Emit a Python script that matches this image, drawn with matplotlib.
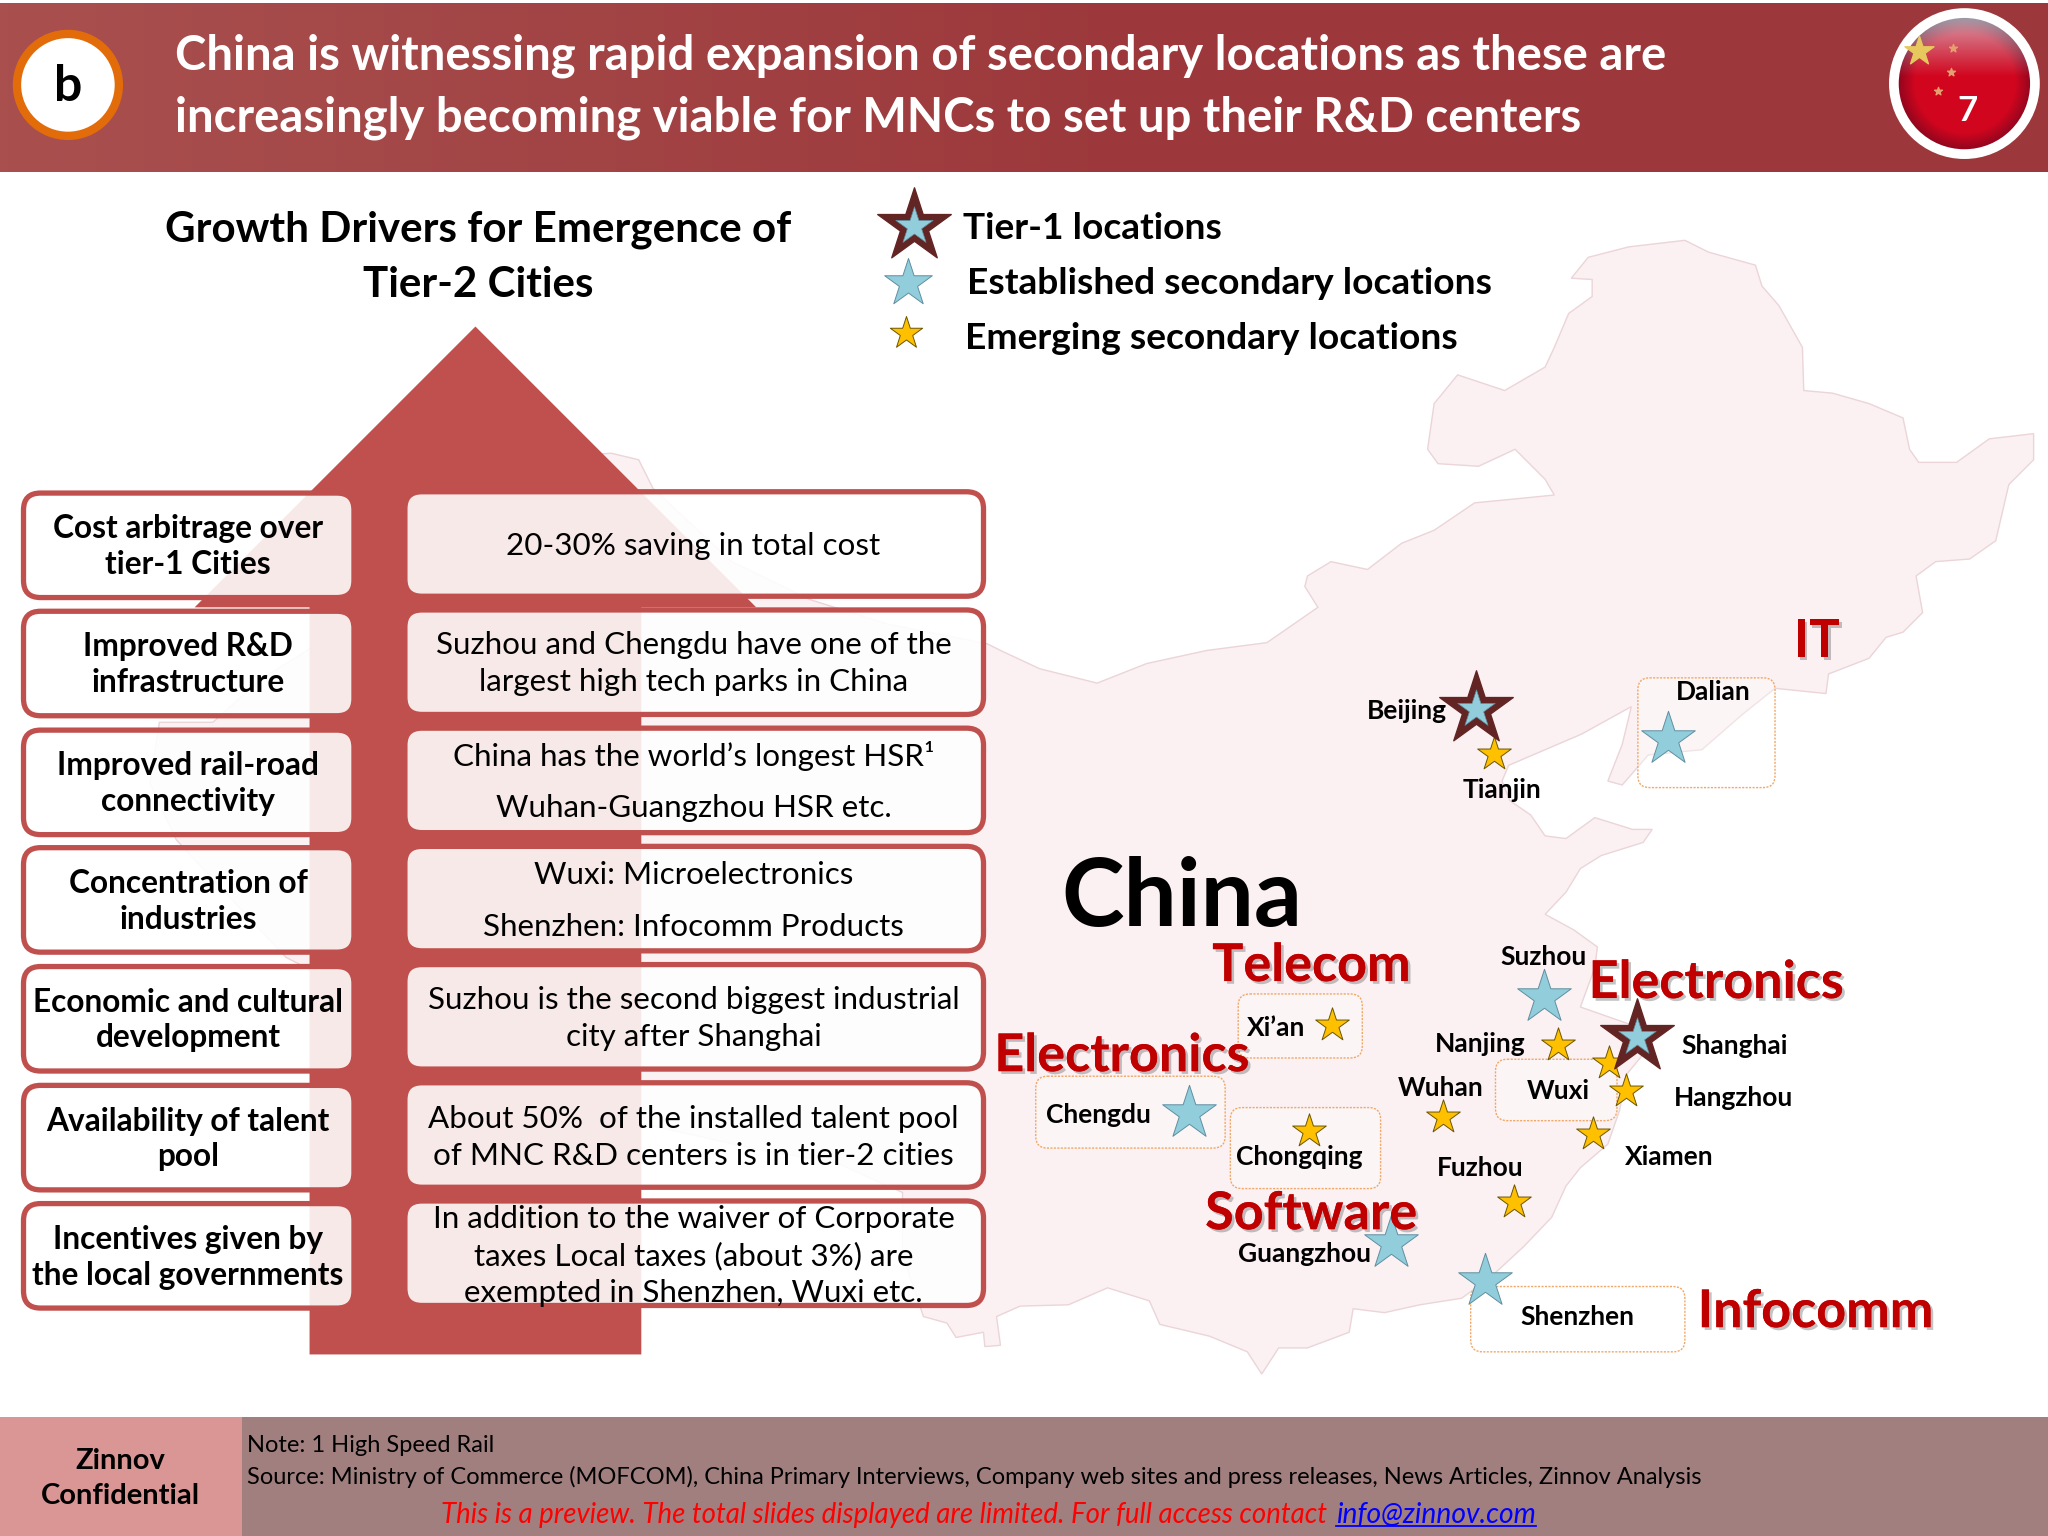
import numpy as np
import matplotlib
matplotlib.use("Agg")
import matplotlib.pyplot as plt
from matplotlib.patches import Circle, FancyBboxPatch, Polygon, Rectangle
import matplotlib.patheffects as pe

plt.rcParams['font.family'] = ['Lato', 'DejaVu Sans']

title_lines = ["China is witnessing rapid expansion of secondary locations as these are",
               "increasingly becoming viable for MNCs to set up their R&D centers"]
panel_title = ["Growth Drivers for Emergence of", "Tier-2 Cities"]
drivers = ["Cost arbitrage over\ntier-1 Cities", "Improved R&D\ninfrastructure", "Improved rail-road\nconnectivity",
           "Concentration of\nindustries", "Economic and cultural\ndevelopment", "Availability of talent\npool",
           "Incentives given by\nthe local governments"]
details = [["20-30% saving in total cost"],
           ["Suzhou and Chengdu have one of the", "largest high tech parks in China"],
           ["China has the world’s longest HSR¹", "Wuhan-Guangzhou HSR etc."],
           ["Wuxi: Microelectronics", "Shenzhen: Infocomm Products"],
           ["Suzhou is the second biggest industrial", "city after Shanghai"],
           ["About 50%  of the installed talent pool", "of MNC R&D centers is in tier-2 cities"],
           ["In addition to the waiver of Corporate", "taxes Local taxes (about 3%) are", "exempted in Shenzhen, Wuxi etc."]]
legend_labels = ["Tier-1 locations", "Established secondary locations", "Emerging secondary locations"]

# everything below is in the coordinates of a 1568 x 1176 view of the slide
left_y = [377.5, 468, 559, 649, 740, 831, 921.5]
right_y = [376.5, 467, 557.5, 648, 738.5, 829, 919.5]
row_h = 80
detail_y = [[418], [494, 522], [579, 619], [670, 710], [766, 794], [857, 885], [933, 962, 990]]

map_x = [1203, 1216, 1247, 1290, 1308, 1344, 1349, 1362, 1380, 1381, 1403, 1431, 1457, 1462, 1469, 1498, 1523, 1557,
         1557, 1538, 1528, 1508, 1482, 1467, 1472, 1457, 1444, 1431, 1400, 1398, 1359, 1334, 1303, 1262, 1242, 1231,
         1242, 1249, 1211, 1183, 1155, 1150, 1156, 1172, 1183, 1199, 1221, 1250, 1265, 1258, 1226, 1210, 1199, 1183,
         1205, 1223, 1221, 1210, 1250, 1264, 1245, 1240, 1231, 1210, 1199, 1188, 1167, 1140, 1119, 1087, 1060, 1036,
         1033, 1001, 979, 966, 955, 926, 888, 880, 848, 818, 781, 763, 766, 754, 753, 732, 725, 707, 691, 691, 640,
         580, 491, 350, 219, 135, 115, 122, 163, 200, 280, 340, 420, 468, 489, 500, 560, 620, 680, 756, 766, 796, 840,
         878, 924, 970, 1009, 999, 1001, 1019, 1047, 1073, 1098, 1129, 1170, 1190, 1183, 1160, 1132, 1101, 1093, 1098,
         1116, 1152, 1183, 1190, 1201, 1219, 1219]
map_y = [213, 197, 189, 184, 193, 203, 219, 234, 266, 299, 301, 309, 320, 344, 354, 354, 336, 332,
         352, 371, 414, 428, 430, 441, 469, 484, 488, 504, 516, 531, 527, 547, 574, 578, 601, 598,
         570, 541, 562, 574, 586, 598, 613, 624, 640, 642, 626, 635, 635, 645, 655, 665, 683, 700,
         712, 725, 741, 771, 785, 800, 823, 850, 876, 894, 908, 932, 954, 979, 994, 999, 1005, 1002,
         1020, 1032, 1032, 1052, 1035, 1023, 1014, 996, 986, 999, 1000, 1008, 1030, 1031, 1020, 1024, 1013, 1008, 960, 913, 890,
         880, 860, 800, 733, 643, 600, 553, 553, 520, 470, 410, 350, 347, 352, 374, 430, 459, 478, 493, 498, 512, 523,
         508, 498, 492, 465, 449, 441, 430, 436, 416, 406, 385, 381, 379, 367, 344, 357, 355, 344, 309,
         287, 299, 281, 266, 240, 227, 214]

tier1_x, tier1_y = [1130, 1253], [543, 794]
est_x, est_y = [1277, 1182, 910, 1065, 1137], [566, 763, 852, 952, 981]
emg_x = [1144, 1193, 1020, 1002, 1105, 1232, 1245, 1220, 1159]
emg_y = [577, 800, 785, 866, 855, 814, 835, 868, 920]

city_names = ["Beijing", "Tianjin", "Dalian", "Suzhou", "Nanjing", "Shanghai", "Xi’an", "Wuhan", "Wuxi", "Hangzhou",
              "Chengdu", "Chongqing", "Xiamen", "Fuzhou", "Guangzhou", "Shenzhen"]
city_x = [1077, 1150, 1312, 1182, 1133, 1328, 977, 1103, 1193, 1327, 841, 995, 1278, 1133, 999, 1208]
city_y = [544, 605, 530, 733, 799, 801, 787, 833, 835, 841, 854, 886, 886, 894, 960, 1008]

sectors = ["IT", "Telecom", "Electronics", "Electronics", "Software", "Infocomm"]
sector_x = [1391, 1004, 1314, 859, 1004, 1390]
sector_y = [492, 740, 753, 809, 930, 1005]

# x0, y0, x1, y1 of the dotted city boxes
city_boxes = [(1254, 519, 1359, 603), (948, 761, 1043, 810), (793, 824, 938, 879),
              (942, 848, 1057, 910), (1145, 811, 1238, 858), (1126, 985, 1290, 1035)]

note_text = "Note: 1 High Speed Rail"
source_text = "Source: Ministry of Commerce (MOFCOM), China Primary Interviews, Company web sites and press releases, News Articles, Zinnov Analysis"
preview_text = "This is a preview. The total slides displayed are limited. For full access contact "
mail_text = "info@zinnov.com"

RED = "#C0504D"
BLUE = "#92CDDC"
GOLD = "#FFC000"
DARK = "#632523"
SECTOR = "#C00000"

fig = plt.figure(figsize=(20.48, 15.36), dpi=100)
ax = fig.add_axes([0, 0, 1, 1])

# header and footer
grad = np.clip(np.linspace(0, 1, 256).reshape(1, -1) * 1.8, 0, 1)
cmap = matplotlib.colors.LinearSegmentedColormap.from_list("hdr", ["#A9504F", "#9C383B"])
ax.imshow(grad, extent=(0, 1568, 132, 3), cmap=cmap, aspect="auto", zorder=1)
ax.add_patch(Rectangle((0, 1085), 185, 91, fc="#D99694", ec="none", zorder=1))
ax.add_patch(Rectangle((185, 1085), 1383, 91, fc="#A27F7F", ec="none", zorder=1))

ax.add_patch(Circle((52, 65), 39, fc="white", ec="#E36C0A", lw=6, zorder=3))
ax.text(52, 66, "b", fontsize=36, fontweight="bold", ha="center", va="center", zorder=4)
for line, y in zip(title_lines, [43, 90]):
    ax.text(134, y, line, color="white", fontsize=34, fontweight="bold", va="center", zorder=3)

# flag badge, with a glossy top fading into saturated red
yy, xx = np.mgrid[-1:1:200j, -1:1:200j]
rim = np.clip((np.hypot(xx, yy) - 0.75) / 0.25, 0, 1)
gloss = np.clip(1 - (yy + 1) / 0.9, 0, 1)
shade = np.dstack([0.82 - 0.25 * rim + 0.02 * gloss, 0.02 + 0.6 * gloss, 0.12 + 0.55 * gloss])
flag = ax.imshow(np.clip(shade, 0, 1), extent=(1453, 1555, 115, 13), aspect="auto", zorder=3)
badge = Circle((1504, 64), 51, transform=ax.transData)
flag.set_clip_path(badge)
ax.add_patch(Circle((1504, 64), 54, fc="none", ec="white", lw=7, zorder=4))
ax.scatter([1469], [39], marker="*", s=480, c="#E6C85E", zorder=4)
ax.scatter([1495, 1494, 1484], [37, 55, 70], marker="*", s=35, c="#E6A070", zorder=4)
ax.text(1506, 85, "7", color="white", fontsize=25, fontweight="bold", ha="center", va="center", zorder=5)

# map
ax.add_patch(Polygon(np.column_stack([map_x, map_y]), closed=True, fc="#FBF0F2", ec="#EBD5D8", lw=1, zorder=2))

# big arrow
arrow_x = [364, 579, 491, 491, 237, 237, 149]
arrow_y = [250, 465, 465, 1037, 1037, 465, 465]
ax.add_patch(Polygon(np.column_stack([arrow_x, arrow_y]), closed=True, fc=RED, ec="none", zorder=3))

for line, y in zip(panel_title, [176, 218]):
    ax.text(366, y, line, fontsize=30.3, fontweight="bold", ha="center", va="center", zorder=5)

for lab, y in zip(drivers, left_y):
    ax.add_patch(FancyBboxPatch((18, y), 253, row_h, boxstyle="round,pad=0,rounding_size=13",
                                fc=(1, 1, 1, 0.88), ec="none", zorder=4))
    ax.add_patch(FancyBboxPatch((18, y), 253, row_h, boxstyle="round,pad=0,rounding_size=13",
                                fc="none", ec=RED, lw=3.8, zorder=4))
    ax.text(144, y + row_h / 2 + 1, lab, fontsize=22.8, fontweight="bold", ha="center", va="center",
            linespacing=1.28, zorder=5)

for lines, ys, y in zip(details, detail_y, right_y):
    ax.add_patch(FancyBboxPatch((310, y), 443, row_h, boxstyle="round,pad=0,rounding_size=13",
                                fc=(1, 1, 1, 0.88), ec="none", zorder=4))
    ax.add_patch(FancyBboxPatch((310, y), 443, row_h, boxstyle="round,pad=0,rounding_size=13",
                                fc="none", ec=RED, lw=3.8, zorder=4))
    for line, ty in zip(lines, ys):
        ax.text(531, ty, line, fontsize=22.6, ha="center", va="center", zorder=5)

# legend
ax.scatter([700], [173], marker="*", s=3100, c=DARK, zorder=5)
ax.scatter([700], [173], marker="*", s=800, c=BLUE, edgecolors="#5F8FA0", lw=0.5, zorder=6)
ax.scatter([695], [217], marker="*", s=1300, c=BLUE, edgecolors="#5F8FA0", lw=0.7, zorder=5)
ax.scatter([694], [255], marker="*", s=600, c=GOLD, edgecolors="#6B5500", lw=0.7, zorder=5)
for lab, x, y in zip(legend_labels, [737, 740, 739], [175, 217, 259]):
    ax.text(x, y, lab, fontsize=26.7, fontweight="bold", va="center", zorder=5)

# city boxes, sectors and stars
for x0, y0, x1, y1 in city_boxes:
    ax.add_patch(FancyBboxPatch((x0, y0), x1 - x0, y1 - y0, boxstyle="round,pad=0,rounding_size=9",
                                fc=(1, 1, 1, 0.35), ec="#F0A868", lw=1, ls=(0, (1.5, 1)), zorder=4))

ax.scatter(est_x, est_y, marker="*", s=1650, c=BLUE, edgecolors="#5F8FA0", lw=0.7, zorder=6)
ax.scatter(emg_x, emg_y, marker="*", s=650, c=GOLD, edgecolors="#6B5500", lw=0.7, zorder=7)
ax.scatter(tier1_x, tier1_y, marker="*", s=3100, c=DARK, zorder=8)
ax.scatter(tier1_x, tier1_y, marker="*", s=800, c=BLUE, edgecolors="#5F8FA0", lw=0.5, zorder=9)

for name, x, y in zip(city_names, city_x, city_y):
    ax.text(x, y, name, fontsize=19, fontweight="bold", ha="center", va="center", zorder=10)

shadow = [pe.withSimplePatchShadow(offset=(2, -2), shadow_rgbFace="#555555", alpha=0.35), pe.Normal()]
for name, x, y in zip(sectors, sector_x, sector_y):
    ax.text(x, y, name, fontsize=37.5, fontweight="bold", color=SECTOR, ha="center", va="center",
            path_effects=shadow, zorder=10)

ax.text(905, 688, "China", fontsize=68, fontweight="bold", ha="center", va="center", zorder=10)

# footer text
ax.text(92, 1132, "Zinnov\nConfidential", fontsize=21, fontweight="bold", ha="center", va="center",
        linespacing=1.42, zorder=3)
ax.text(189, 1107, note_text, fontsize=17, va="center", zorder=3)
ax.text(189, 1131, source_text, fontsize=17, va="center", zorder=3)
ax.text(1021, 1160, preview_text, fontsize=19.9, color="#FF0000", style="italic", ha="right", va="center", zorder=3)
ax.text(1023, 1160, mail_text, fontsize=20.3, color="#0000FF", style="italic", va="center", zorder=3)
ax.plot([1023, 1176], [1168, 1168], color="#0000FF", lw=1.3, zorder=3)

ax.set_xlim(0, 1568)
ax.set_ylim(1176, 0)
ax.axis("off")

fig.savefig("out.png", dpi=100)
